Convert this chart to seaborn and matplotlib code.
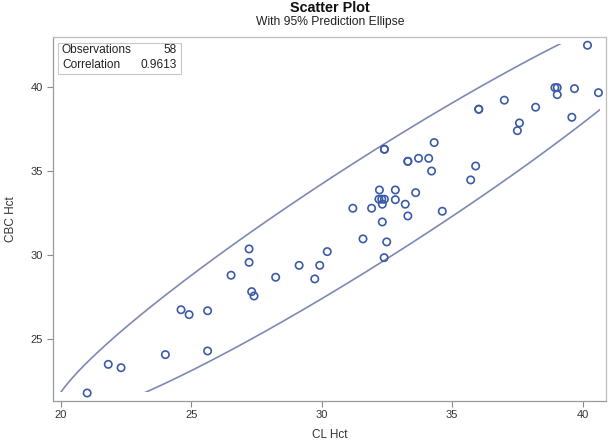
import numpy as np
import pandas as pd
import matplotlib
matplotlib.use("Agg")
import matplotlib.pyplot as plt
import seaborn as sns

cl_hct = [21.0, 21.81, 22.30, 24.0, 24.60, 24.91, 25.62, 25.62, 26.52, 27.21,
          27.21, 27.31, 27.40, 28.23, 29.13, 29.73, 29.92, 30.21, 31.58, 32.49,
          32.39, 40.19, 38.94, 39.03, 39.03, 39.69, 40.61, 37.0, 36.02, 38.20,
          39.59, 37.58, 37.50, 32.40, 34.31, 33.30, 33.71, 34.10, 34.21, 35.90,
          35.71, 32.21, 32.82, 33.60, 32.19, 32.40, 32.82, 32.32, 33.20, 31.19,
          31.91, 34.62, 33.30, 32.32, 36.02, 33.30, 32.40, 32.30]
cbc_hct = [21.76, 23.47, 23.27, 24.05, 26.73, 26.44, 26.67, 24.27, 28.79, 30.36,
           29.56, 27.81, 27.55, 28.67, 29.38, 28.57, 29.38, 30.20, 30.96, 30.78,
           29.84, 42.52, 39.99, 39.99, 39.57, 39.93, 39.69, 39.24, 38.70, 38.82,
           38.22, 37.88, 37.42, 36.31, 36.71, 35.59, 35.77, 35.77, 35.01, 35.31,
           34.48, 33.88, 33.88, 33.72, 33.33, 33.33, 33.30, 33.03, 33.03, 32.79,
           32.79, 32.61, 32.33, 31.97, 38.70, 35.59, 36.31, 33.33]
n_obs = 58
correlation = 0.9613
f_quantile = 3.161  # F(0.95; 2, n-2)

x_ticks = [20, 25, 30, 35, 40]
y_ticks = [25, 30, 35, 40]

df = pd.DataFrame({"CL Hct": cl_hct, "CBC Hct": cbc_hct})

sns.set_style("white")
plt.rcParams["font.family"] = ["Liberation Sans", "DejaVu Sans"]

fig = plt.figure(figsize=(6.09, 4.46), dpi=100)
ax = fig.add_axes([53/609, 1-400.7/446, (606-53)/609, (400.7-36.7)/446])

marker_col = "#3B5BA8"
ell_col = "#7E88B6"

sns.scatterplot(data=df, x="CL Hct", y="CBC Hct", ax=ax, marker="o",
                facecolor="none", edgecolor=marker_col, linewidth=1.2, s=28, zorder=3)

# 95% prediction ellipse (means and SDs from the data, correlation as reported)
data = np.column_stack([cl_hct, cbc_hct])
mu = data.mean(axis=0)
sd = data.std(axis=0, ddof=1)
cov = np.array([[sd[0] ** 2, correlation * sd[0] * sd[1]],
                [correlation * sd[0] * sd[1], sd[1] ** 2]])
n = n_obs
c2 = 2 * (n + 1) * (n - 1) / (n * (n - 2)) * f_quantile
vals, vecs = np.linalg.eigh(cov)
t = np.linspace(0, 2 * np.pi, 800)
circ = np.vstack([np.cos(t), np.sin(t)])
ell = (vecs @ (np.sqrt(vals * c2)[:, None] * circ)).T + mu
line, = ax.plot(ell[:, 0], ell[:, 1], color=ell_col, lw=1.2, zorder=2)
clip = plt.Rectangle((6/553, 8.7/364), 1 - 12.5/553, 1 - 16/364,
                     transform=ax.transAxes, facecolor="none", edgecolor="none")
ax.add_patch(clip)
line.set_clip_path(clip)

ax.set_xlim(19.69, 40.9)
ax.set_ylim(21.3, 43.03)
ax.set_xticks(x_ticks)
ax.set_yticks(y_ticks)
ax.tick_params(axis="both", direction="out", length=4, width=0.8, color="#8A8A8A",
               labelsize=8, labelcolor="#333333", pad=3, bottom=True, left=True)
for sp in ax.spines.values():
    sp.set_color("#BDBDBD")
    sp.set_linewidth(0.9)
ax.spines["left"].set_color("#9A9A9A")
ax.spines["bottom"].set_color("#9A9A9A")
ax.set_xlabel("CL Hct", fontsize=8.5, color="#333333", labelpad=6)
ax.set_ylabel("CBC Hct", fontsize=8.5, color="#333333", labelpad=10)

# inset statistics box
box = plt.Rectangle((58/609, 1-74/446), (181-58)/609, (74-43)/446, transform=fig.transFigure,
                    facecolor="white", edgecolor="#C8C8C8", lw=0.8, zorder=5)
fig.patches.append(box)
tkw = dict(fontsize=8.6, color="#222222", va="center", zorder=10)
fig.text(62/609, 1-50/446, "Observations", **tkw)
fig.text(177/609, 1-50/446, f"{n_obs}", ha="right", **tkw)
fig.text(62/609, 1-65.3/446, "Correlation", **tkw)
fig.text(177/609, 1-65.3/446, f"{correlation:.4f}", ha="right", **tkw)

fig.text(330/609, 1-7.5/446, "Scatter Plot", fontsize=10.4, fontweight="bold", ha="center", va="center", color="#111111")
fig.text(330/609, 1-22/446, "With 95% Prediction Ellipse", fontsize=8.7, ha="center", va="center", color="#222222")

fig.savefig("out.png", dpi=100)
